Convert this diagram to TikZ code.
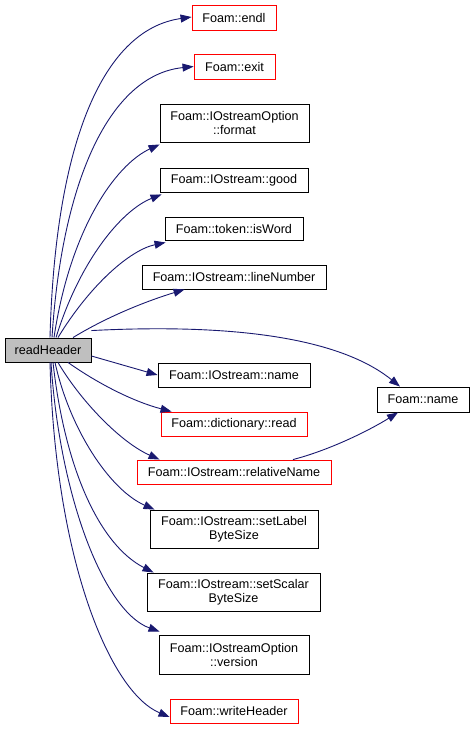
\documentclass[tikz,border=0pt]{standalone}
\usepackage{fontspec}
\setmainfont{Liberation Sans}
\usetikzlibrary{arrows.meta}
\definecolor{edgecol}{HTML}{191970}
\definecolor{boxred}{HTML}{FF0000}
\definecolor{rootfill}{HTML}{BFBFBF}
\tikzset{
  fn/.style={draw=black, line width=0.9pt, rectangle, inner sep=0pt, align=center,
    font=\fontsize{12.6}{14}\selectfont},
  fnred/.style={fn, draw=boxred},
  root/.style={fn, fill=rootfill},
  call/.style={draw=edgecol, line width=0.9pt, -{Triangle[length=11pt,width=8pt]}}
}
\begin{document}
\begin{tikzpicture}[x=1pt,y=-1pt]
\useasboundingbox (0,0) rectangle (474,729);
\node[root, minimum width=86pt, minimum height=24pt] (rh) at (48,350) {readHeader};
\node[fnred, minimum width=84pt, minimum height=25pt] (endl) at (234,17.5) {Foam::endl};
\node[fnred, minimum width=81pt, minimum height=25pt] (exit) at (234.5,66.5) {Foam::exit};
\node[fn, minimum width=149pt, minimum height=38pt] (format) at (234.5,123) {Foam::IOstreamOption\\::format};
\node[fn, minimum width=148pt, minimum height=24pt] (good) at (234,180) {Foam::IOstream::good};
\node[fn, minimum width=138pt, minimum height=23pt] (isword) at (234,228.5) {Foam::token::isWord};
\node[fn, minimum width=184pt, minimum height=24pt] (linenum) at (234,277) {Foam::IOstream::lineNumber};
\node[fn, minimum width=152pt, minimum height=24pt] (ioname) at (234,375) {Foam::IOstream::name};
\node[fnred, minimum width=146pt, minimum height=24pt] (read) at (234,424) {Foam::dictionary::read};
\node[fnred, minimum width=194pt, minimum height=24pt] (relname) at (234,472) {Foam::IOstream::relativeName};
\node[fn, minimum width=92pt, minimum height=25pt] (fname) at (423,399.5) {Foam::name};
\node[fn, minimum width=168pt, minimum height=38pt] (setlabel) at (234,529) {Foam::IOstream::setLabel\\ByteSize};
\node[fn, minimum width=173pt, minimum height=38pt] (setscalar) at (233.5,592) {Foam::IOstream::setScalar\\ByteSize};
\node[fn, minimum width=150pt, minimum height=39pt] (version) at (234,654.5) {Foam::IOstreamOption\\::version};
\node[fnred, minimum width=128pt, minimum height=24pt] (writeh) at (234,711) {Foam::writeHeader};

\draw[call] ([xshift=2pt]rh.north) .. controls (55,150) and (100,30) .. ([yshift=0.5pt]endl.west);
\draw[call] ([xshift=4pt]rh.north) .. controls (62,180) and (110,75) .. (exit.west);
\draw[call] ([xshift=6pt]rh.north) .. controls (70,230) and (115,165) .. ([yshift=-2pt]format.south west);
\draw[call] ([xshift=8pt]rh.north) .. controls (80,260) and (122,210) .. ([xshift=2pt,yshift=-2pt]good.south west);
\draw[call] ([xshift=10pt]rh.north) .. controls (90,285) and (130,250) .. ([xshift=1pt,yshift=-2pt]isword.south west);
\draw[call] ([xshift=25pt]rh.north) .. controls (110,315) and (150,300) .. ([xshift=43pt]linenum.south west);
\draw[call] ([yshift=7pt]rh.north east) .. controls (200,325) and (330,330) .. ([xshift=-23pt]fname.north);
\draw[call] ([yshift=-6pt]rh.east) -- (ioname.west);
\draw[call] ([xshift=20pt]rh.south) .. controls (100,385) and (135,402) .. ([xshift=11pt]read.north west);
\draw[call] ([xshift=10pt]rh.south) .. controls (80,400) and (120,442) .. ([xshift=23pt]relname.north west);
\draw[call] ([xshift=7pt]rh.south) .. controls (70,430) and (110,490) .. ([xshift=5pt]setlabel.north west);
\draw[call] ([xshift=5pt]rh.south) .. controls (65,470) and (100,545) .. ([xshift=7pt]setscalar.north west);
\draw[call] ([xshift=3pt]rh.south) .. controls (60,500) and (105,612) .. ([xshift=1pt,yshift=3pt]version.north west);
\draw[call] ([xshift=2pt]rh.south) .. controls (55,560) and (110,692) .. ([yshift=-6pt]writeh.west);
\draw[call] ([xshift=59pt]relname.north) .. controls (330,450) and (370,430) .. ([xshift=-25pt]fname.south);
\end{tikzpicture}
\end{document}
